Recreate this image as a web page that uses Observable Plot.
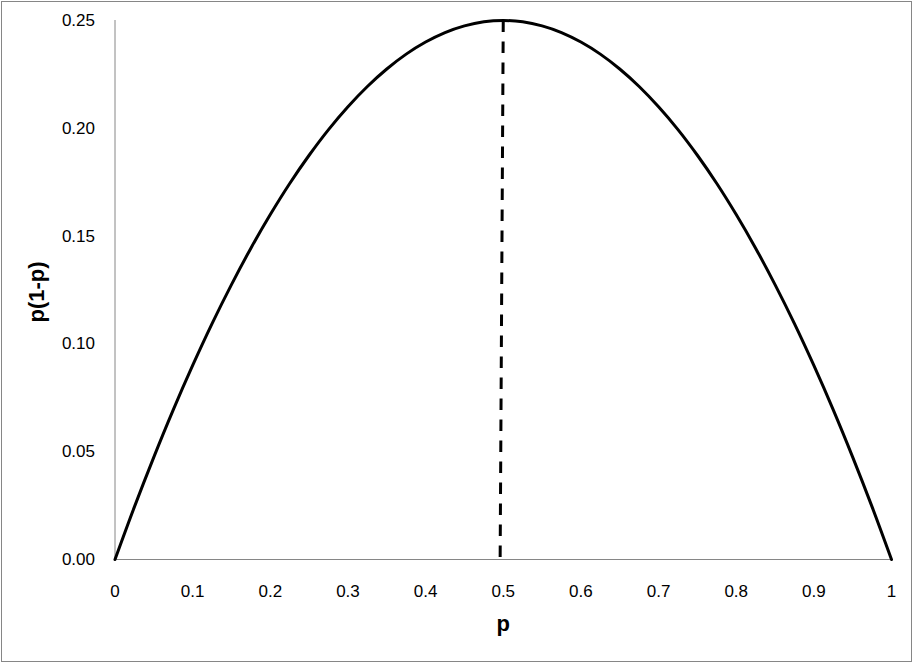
<!DOCTYPE html>
<html>
<head>
<meta charset="utf-8">
<script src="https://cdn.jsdelivr.net/npm/d3@7"></script>
<script src="https://cdn.jsdelivr.net/npm/@observablehq/plot@0.6"></script>
<style>
  html, body { margin: 0; padding: 0; background: #fff; }
  #wrap { position: relative; width: 913px; height: 663px; overflow: hidden; }
  #border { position: absolute; left: 1px; top: 1px; width: 909px; height: 659px; border: 1px solid #868686; pointer-events: none; }
  svg { display: block; }
</style>
</head>
<body>
<div id="wrap"><div id="chart"></div><div id="border"></div></div>
<script>
// p values along the curve
const pValues = [0, 0.025, 0.05, 0.075, 0.1, 0.125, 0.15, 0.175, 0.2, 0.225, 0.25, 0.275, 0.3, 0.325, 0.35, 0.375, 0.4, 0.425, 0.45, 0.475, 0.5,
                 0.525, 0.55, 0.575, 0.6, 0.625, 0.65, 0.675, 0.7, 0.725, 0.75, 0.775, 0.8, 0.825, 0.85, 0.875, 0.9, 0.925, 0.95, 0.975, 1];
// p(1-p)
const varValues = [0, 0.0244, 0.0475, 0.0694, 0.09, 0.1094, 0.1275, 0.1444, 0.16, 0.1744, 0.1875, 0.1994, 0.21, 0.2194, 0.2275, 0.2344, 0.24, 0.2444, 0.2475, 0.2494, 0.25,
                   0.2494, 0.2475, 0.2444, 0.24, 0.2344, 0.2275, 0.2194, 0.21, 0.1994, 0.1875, 0.1744, 0.16, 0.1444, 0.1275, 0.1094, 0.09, 0.0694, 0.0475, 0.0244, 0];
// dashed marker at the maximum
const dashX = [0.5, 0.496];
const dashY = [0.25, 0];
// tick labels
const xTicks = [0, 0.1, 0.2, 0.3, 0.4, 0.5, 0.6, 0.7, 0.8, 0.9, 1];
const yTicks = [0, 0.05, 0.10, 0.15, 0.20, 0.25];
const xTitle = "p";
const yTitle = "p(1-p)";

const curve = pValues.map((p, i) => ({p, v: varValues[i]}));
const dash = dashX.map((x, i) => ({x, y: dashY[i]}));

const chart = Plot.plot({
  width: 913,
  height: 663,
  marginLeft: 114.5,
  marginRight: 22,
  marginTop: 20,
  marginBottom: 104,
  style: {fontFamily: "'Liberation Sans', Arial, sans-serif", fontSize: "17px", color: "#000", background: "#fff"},
  x: {domain: [0, 1]},
  y: {domain: [0, 0.25]},
  marks: [
    Plot.axisX({ticks: xTicks, tickFormat: d => String(d), tickSize: 0, tickPadding: 25, label: null, fontSize: 17}),
    Plot.axisY({ticks: yTicks, tickFormat: d3.format(".2f"), tickSize: 0, tickPadding: 20, label: null, fontSize: 17}),
    Plot.ruleX([0], {stroke: "#868686", strokeWidth: 1, y1: 0, y2: 0.25, insetTop: -1}),
    Plot.ruleY([0], {stroke: "#868686", strokeWidth: 1}),
    Plot.line(dash, {x: "x", y: "y", stroke: "#000", strokeWidth: 3, strokeDasharray: "11.5,9.5", strokeLinecap: "butt"}),
    Plot.line(curve, {x: "p", y: "v", stroke: "#000", strokeWidth: 3, curve: "catmull-rom"}),
    Plot.text([yTitle], {frameAnchor: "left", rotate: -90, dx: -78.5, dy: 2, fontSize: 22, fontWeight: "bold", fill: "#000", textAnchor: "middle"}),
    Plot.text([xTitle], {frameAnchor: "bottom", dy: 71, fontSize: 22, fontWeight: "bold", fill: "#000", textAnchor: "middle"})
  ]
});
document.getElementById("chart").appendChild(chart);
</script>
</body>
</html>
